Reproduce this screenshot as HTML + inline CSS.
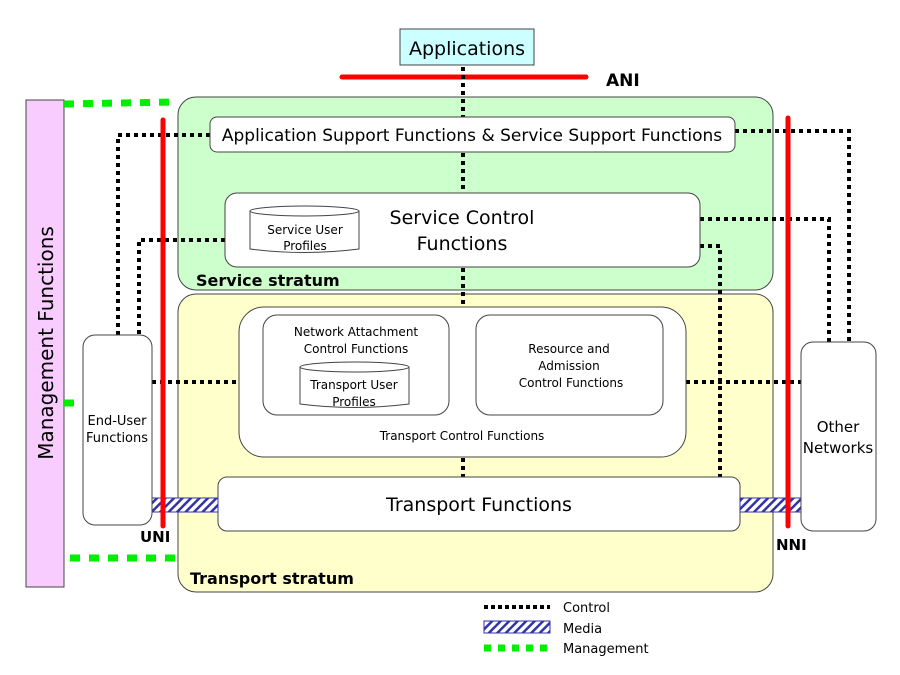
<!DOCTYPE html>
<html><head><meta charset="utf-8"><style>
html,body{margin:0;padding:0;background:#fff;}
svg{display:block;font-family:"DejaVu Sans","Liberation Sans",sans-serif;}
</style></head><body>
<svg width="900" height="675" viewBox="0 0 900 675" xmlns="http://www.w3.org/2000/svg">
<defs>
<pattern id="hatch" patternUnits="userSpaceOnUse" width="6" height="6" patternTransform="rotate(45)">
<rect width="6" height="6" fill="#fff"/><rect width="2.5" height="6" fill="#3333aa"/>
</pattern>
</defs>
<rect width="900" height="675" fill="#fff"/>
<!-- strata -->
<rect x="178" y="97" width="595" height="193" rx="18" fill="#ccffcc" stroke="#444" stroke-width="1"/>
<rect x="178" y="294" width="595" height="298" rx="18" fill="#ffffcc" stroke="#444" stroke-width="1"/>
<text x="196" y="286" font-size="16" font-weight="bold" fill="#000">Service stratum</text>
<text x="190" y="584" font-size="16" font-weight="bold" fill="#000">Transport stratum</text>
<!-- Management -->
<rect x="26" y="100" width="38" height="487" fill="#f9ccff" stroke="#444" stroke-width="1"/>
<text transform="translate(53,343) rotate(-90)" text-anchor="middle" font-size="20" fill="#000">Management Functions</text>
<g stroke="#00ee00" stroke-width="7" stroke-dasharray="10 9">
<line x1="64" y1="104" x2="176" y2="102"/>
<line x1="64" y1="403" x2="84" y2="403"/>
<line x1="70" y1="558" x2="178" y2="558"/>
</g>
<!-- Applications -->
<rect x="400" y="29" width="134" height="36" fill="#ccffff" stroke="#444"/>
<text x="467" y="55" text-anchor="middle" font-size="19">Applications</text>
<line x1="342" y1="77" x2="586" y2="77" stroke="#f00" stroke-width="5" stroke-linecap="round"/>
<text x="606" y="86" font-size="17" font-weight="bold">ANI</text>
<!-- control lines -->
<g stroke="#000" stroke-width="4" stroke-dasharray="4 4" fill="none">
<line x1="463" y1="67" x2="463" y2="117"/>
<line x1="463" y1="153" x2="463" y2="193"/>
<line x1="463" y1="268" x2="463" y2="307"/>
<line x1="463" y1="458" x2="463" y2="477"/>
<polyline points="210,135 118,135 118,335"/>
<polyline points="225,240 139,240 139,335"/>
<line x1="152" y1="382" x2="239" y2="382"/>
<line x1="686" y1="382" x2="801" y2="382"/>
<line x1="450" y1="362" x2="476" y2="362"/>
<polyline points="735,131 849,131 849,342"/>
<polyline points="700,219 829,219 829,342"/>
<polyline points="700,246 720,246 720,477"/>
</g>
<!-- boxes -->
<rect x="210" y="117" width="525" height="35" rx="7" fill="#fff" stroke="#444"/>
<text x="472" y="141" text-anchor="middle" font-size="17">Application Support Functions &amp; Service Support Functions</text>
<rect x="225" y="193" width="475" height="74" rx="12" fill="#fff" stroke="#444"/>
<text x="462" y="224" text-anchor="middle" font-size="19">Service Control</text>
<text x="462" y="250" text-anchor="middle" font-size="19">Functions</text>
<path d="M250,211 L250,249 Q304,256 359,249 L359,211" fill="#fff" stroke="#444"/>
<ellipse cx="304.5" cy="211" rx="54.5" ry="5" fill="#fff" stroke="#444"/>
<text x="305" y="234" text-anchor="middle" font-size="12">Service User</text>
<text x="305" y="250" text-anchor="middle" font-size="12">Profiles</text>
<rect x="239" y="307" width="447" height="150" rx="25" fill="#fff" stroke="#444"/>
<text x="462" y="440" text-anchor="middle" font-size="12">Transport Control Functions</text>
<rect x="263" y="315" width="186" height="100" rx="14" fill="#fff" stroke="#444"/>
<text x="356" y="336" text-anchor="middle" font-size="12">Network Attachment</text>
<text x="356" y="353" text-anchor="middle" font-size="12">Control Functions</text>
<path d="M300,367 L300,404 Q354,411 409,404 L409,367" fill="#fff" stroke="#444"/>
<ellipse cx="354.5" cy="367" rx="54.5" ry="5" fill="#fff" stroke="#444"/>
<text x="354" y="389" text-anchor="middle" font-size="12">Transport User</text>
<text x="354" y="406" text-anchor="middle" font-size="12">Profiles</text>
<rect x="476" y="315" width="187" height="100" rx="14" fill="#fff" stroke="#444"/>
<text x="569" y="353" text-anchor="middle" font-size="12">Resource and</text>
<text x="569" y="370" text-anchor="middle" font-size="12">Admission</text>
<text x="571" y="387" text-anchor="middle" font-size="12">Control Functions</text>
<rect x="218" y="477" width="522" height="54" rx="9" fill="#fff" stroke="#444"/>
<text x="479" y="511" text-anchor="middle" font-size="19">Transport  Functions</text>
<!-- media -->
<rect x="152" y="498" width="66" height="14" fill="url(#hatch)" stroke="#3333aa" stroke-width="1"/>
<rect x="740" y="498" width="61" height="14" fill="url(#hatch)" stroke="#3333aa" stroke-width="1"/>
<!-- end user / other networks -->
<rect x="83" y="335" width="69" height="190" rx="12" fill="#fff" stroke="#444"/>
<text x="117" y="425" text-anchor="middle" font-size="13">End-User</text>
<text x="117" y="442" text-anchor="middle" font-size="13">Functions</text>
<rect x="801" y="342" width="75" height="189" rx="12" fill="#fff" stroke="#444"/>
<text x="838" y="432" text-anchor="middle" font-size="15">Other</text>
<text x="838" y="453" text-anchor="middle" font-size="15">Networks</text>
<!-- red lines -->
<line x1="163" y1="120" x2="163" y2="526" stroke="#f00" stroke-width="5" stroke-linecap="round"/>
<line x1="788" y1="118" x2="788" y2="526" stroke="#f00" stroke-width="5" stroke-linecap="round"/>
<text x="140" y="542" font-size="15" font-weight="bold">UNI</text>
<text x="776" y="550" font-size="15" font-weight="bold">NNI</text>
<!-- legend -->
<line x1="484" y1="607" x2="550" y2="607" stroke="#000" stroke-width="4" stroke-dasharray="4 3"/>
<rect x="484" y="621" width="66" height="12" fill="url(#hatch)" stroke="#3333aa"/>
<line x1="484" y1="648" x2="550" y2="648" stroke="#00ee00" stroke-width="7" stroke-dasharray="7 7"/>
<text x="563" y="612" font-size="13">Control</text>
<text x="563" y="633" font-size="13">Media</text>
<text x="563" y="653" font-size="13">Management</text>
</svg>
</body></html>
